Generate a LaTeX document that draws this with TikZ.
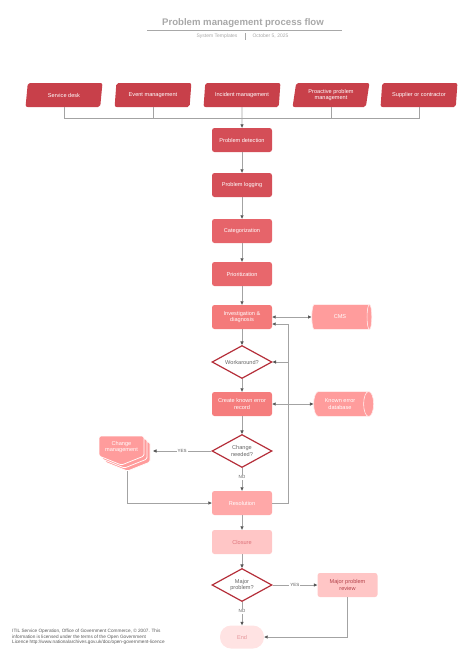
\documentclass[tikz,border=0pt]{standalone}
\usepackage{fontspec}
\setmainfont{Liberation Sans}
\usetikzlibrary{arrows.meta,shapes.geometric,calc}
\definecolor{cpara}{HTML}{C8404A}
\definecolor{cdet}{HTML}{D44E57}
\definecolor{ccat}{HTML}{E6646A}
\definecolor{cinv}{HTML}{F47A7A}
\definecolor{cdb}{HTML}{FF9C9C}
\definecolor{cres}{HTML}{FFA8A8}
\definecolor{cclo}{HTML}{FFC6C6}
\definecolor{cend}{HTML}{FFE3E3}
\definecolor{cdia}{HTML}{B52F3A}
\definecolor{cline}{HTML}{A3A3A3}
\definecolor{ctip}{HTML}{555555}
\definecolor{ctitle}{HTML}{A8A8A8}
\begin{document}
\begin{tikzpicture}[x=1pt,y=-1pt,
  txt/.style={font=\fontsize{5.6}{6.6}\selectfont, align=center},
  para/.style={txt, trapezium, trapezium left angle=80, trapezium right angle=100,
    trapezium stretches=true, minimum width=77pt, minimum height=24pt,
    rounded corners=2pt, fill=cpara, text=white, inner sep=1pt},
  box/.style={txt, rectangle, rounded corners=2.5pt, minimum width=60pt,
    minimum height=24pt, inner sep=1pt, text=white},
  dia/.style={txt, diamond, aspect=1.9, minimum width=60pt, minimum height=33pt,
    inner sep=0pt, draw=cdia, line width=1.2pt, fill=white, text=black!60},
  db/.style={txt, cylinder, shape aspect=0.8, minimum width=25pt, minimum height=60pt,
    cylinder uses custom fill, cylinder body fill=cdb, cylinder end fill=cdb,
    draw=white!80!cdb, line width=0.6pt, text=white, inner sep=1pt},
  ln/.style={draw=cline, line width=0.7pt},
  arr/.style={ln, -{Triangle[length=3.5pt,width=3.2pt,color=ctip]}},
  darr/.style={ln, {Triangle[length=3.5pt,width=3.2pt,color=ctip]}-{Triangle[length=3.5pt,width=3.2pt,color=ctip]}},
  lbl/.style={font=\fontsize{4.5}{5}\selectfont, fill=white, inner sep=1pt, text=black!65}
]
\useasboundingbox (0,0) rectangle (474,665);

% title
\node[font=\fontsize{9.6}{11}\bfseries, text=ctitle] (title) at (243,23) {Problem management process flow};
\draw[ctitle, line width=0.6pt] (147,30) -- (342,30);
\node[font=\fontsize{5}{6}\selectfont, text=ctitle, anchor=east] (sub1) at (241,36.5) {System Templates};
\node[font=\fontsize{5}{6}\selectfont, text=ctitle, anchor=west] (sub2) at (249,36.5) {October 5, 2025};
\draw[ctitle, line width=0.4pt] (245,33) -- (245,40);

% top sources
\node[para] (sd)  at (64,95)  {Service desk};
\node[para] (em)  at (153,95) {Event management};
\node[para] (inc) at (242,95) {Incident management};
\node[para] (pp)  at (331,95) {Proactive problem\\management};
\node[para] (sc)  at (419,95) {Supplier or contractor};
\coordinate (hubL) at (242,118);

% main column
\node[box, fill=cdet] (pd)  at (242,140) {Problem detection};
\node[box, fill=cdet!96!ccat] (pl)  at (242,185) {Problem logging};
\node[box, fill=ccat] (cat) at (242,231) {Categorization};
\node[box, fill=ccat!85!cinv] (pri) at (242,274) {Prioritization};
\node[box, fill=cinv] (inv) at (242,317) {Investigation \&\\diagnosis};
\node[dia] (wa) at (242,362) {Workaround?};
\node[box, fill=cinv!90!cdb] (ker) at (242,404) {Create known error\\record};
\node[dia] (cn) at (242,451) {Change\\needed?};
\node[box, fill=cres] (res) at (242,503) {Resolution};
\node[box, fill=cclo, text=cdet!80!white] (clo) at (242,542) {Closure};
\node[dia] (mp) at (242,585) {Major\\problem?};
\node[box, fill=cclo, text=cdet!85!black] (mpr) at (347.5,585) {Major problem\\review};
\node[txt, rectangle, rounded corners=11pt, minimum width=44pt, minimum height=23pt,
  fill=cend, text=cdet!60!white] (end) at (242,637) {End};

% databases
\node[db] (cms) at (340,317) {CMS};
\node[db] (ked) at (340,404) {Known error\\database};

% change management stack
\foreach \o in {6,3,0}{
  \filldraw[fill=cdb, draw=white, line width=0.7pt, rounded corners=1.5pt]
    (99+\o,436+\o) -- (144+\o,436+\o) -- (144+\o,456+\o) -- (121.5+\o,465+\o)
    -- (99+\o,456+\o) -- cycle;
}
\node[txt, text=white] (cm) at (121.5,447) {Change\\management};
\coordinate (cmR) at (153,451);
\coordinate (cmB) at (127.5,471);

% connectors from sources
\draw[ln] (sd) |- (hubL);
\draw[ln] (em) |- (hubL);
\draw[ln] (pp) |- (hubL);
\draw[ln] (sc) |- (hubL);
\draw[arr] (inc) -- (pd);

% main flow
\draw[arr] (pd) -- (pl);
\draw[arr] (pl) -- (cat);
\draw[arr] (cat) -- (pri);
\draw[arr] (pri) -- (inv);
\draw[arr] (inv) -- (wa);
\draw[arr] (wa) -- (ker);
\draw[arr] (ker) -- (cn);
\draw[arr] (cn) -- node[lbl, pos=0.4] {NO} (res);
\draw[arr] (cn) -- node[lbl] {YES} (cmR);
\draw[arr] (cmB) |- (res);
\draw[arr] (res) -- (clo);
\draw[arr] (clo) -- (mp);
\draw[arr] (mp) -- node[lbl] {YES} (mpr);
\draw[arr] (mp) -- node[lbl, pos=0.4] {NO} (end);
\draw[arr] (mpr) |- (end);

% database links
\draw[darr] (inv) -- (cms);
\draw[darr] (ker) -- (ked);

% feedback loop
\coordinate (fbtop) at (288,324);
\coordinate (fbwa) at (288,362);
\draw[arr] (res.east) -| (fbtop) -- (inv.east |- fbtop);
\draw[arr] (fbwa) -- (wa);

% footer
\node[anchor=north west, align=left, font=\fontsize{4.7}{5.6}\selectfont, text=black!65, inner sep=0pt] (foot) at (12,629)
 {ITIL Service Operation, Office of Government Commerce, © 2007. This\\
  information is licensed under the terms of the Open Government\\
  Licence http://www.nationalarchives.gov.uk/doc/open-government-licence};
\end{tikzpicture}
\end{document}
